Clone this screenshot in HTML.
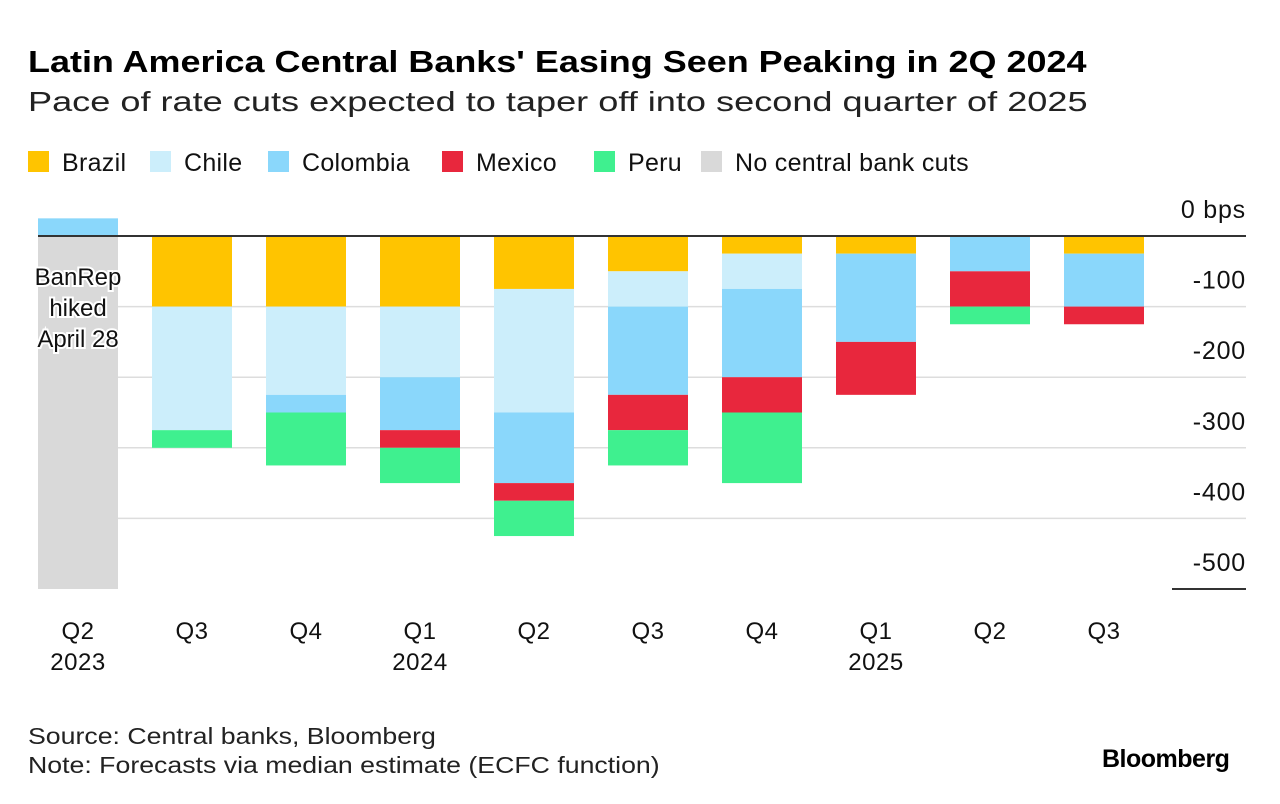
<!DOCTYPE html>
<html><head><meta charset="utf-8"><style>
body{margin:0;background:#fff;font-family:"Liberation Sans",Arial,sans-serif;color:#000}
#wrap{position:relative;width:1280px;height:804px;overflow:hidden}
.t{position:absolute;white-space:nowrap;transform-origin:left top}
</style></head><body><div id="wrap">
<div class="t" style="left:28px;top:44px;font-size:31px;font-weight:bold;transform:scaleX(1.16)">Latin America Central Banks' Easing Seen Peaking in 2Q 2024</div>
<div class="t" style="left:28px;top:86px;font-size:28px;color:#222;transform:scaleX(1.29)">Pace of rate cuts expected to taper off into second quarter of 2025</div>
<div class="t" style="left:28px;top:723px;font-size:23px;color:#222;transform:scaleX(1.16)">Source: Central banks, Bloomberg</div>
<div class="t" style="left:28px;top:752px;font-size:23px;color:#222;transform:scaleX(1.16)">Note: Forecasts via median estimate (ECFC function)</div>
<div class="t" style="left:1102px;top:745px;font-size:25px;font-weight:bold;letter-spacing:-0.5px">Bloomberg</div>
<svg id="c" width="1280" height="804" style="position:absolute;left:0;top:0"></svg>
</div>
<script>
const categories=["Q2","Q3","Q4","Q1","Q2","Q3","Q4","Q1","Q2","Q3"];
const years=["2023","","","2024","","","","2025","",""];
const seriesNames=["Brazil","Chile","Colombia","Mexico","Peru"];
const brazil=[0,100,100,100,75,50,25,25,0,25];
const chile=[0,175,125,100,175,50,50,0,0,0];
const colombia=[-25,0,25,75,100,125,125,125,50,75];
const mexico=[0,0,0,25,25,50,50,75,50,25];
const peru=[0,25,75,50,50,50,100,0,25,0];
const noCuts=[500,0,0,0,0,0,0,0,0,0];
const yTicks=[0,-100,-200,-300,-400,-500];
const colors={Brazil:"#FFC400",Chile:"#CCEEFB",Colombia:"#8AD7FB",Mexico:"#E8273D",Peru:"#3FF08F",None:"#D9D9D9"};
const svg=document.getElementById('c');const NS="http://www.w3.org/2000/svg";
const y0=236,pxPer=(589-236)/500;
function yS(v){return y0-v*pxPer;}
function xS(i){return 38+i*114;}
const bw=80;
function mk(tag,at){const e=document.createElementNS(NS,tag);for(const k in at)e.setAttribute(k,at[k]);svg.appendChild(e);return e;}
// legend
const legItems=[["Brazil",colors.Brazil,28],["Chile",colors.Chile,150],["Colombia",colors.Colombia,268],["Mexico",colors.Mexico,442],["Peru",colors.Peru,594],["No central bank cuts",colors.None,701]];
legItems.forEach(([n,c,lx])=>{
 const r=mk('rect',{x:lx,y:151,width:21,height:21,fill:c});
 
 
 const t=mk('text',{x:lx+34,y:171,'font-size':25,fill:'#111','letter-spacing':'0.3'});t.textContent=n;
 
 
});
// gridlines first
yTicks.forEach(v=>{
 const y=yS(v);
 if(v!==0&&v!==-500){const l=mk('line',{x1:38,x2:1246,y1:y,y2:y,stroke:'#ddd','stroke-width':1.5});}
});
// bars
const stacks=[brazil,chile,colombia,mexico,peru];
categories.forEach((c,i)=>{
 if(noCuts[i]>0){const r=mk('rect',{x:xS(i),y:y0,width:bw,height:noCuts[i]*pxPer,fill:colors.None});
  
  }
 let cum=0;
 stacks.forEach((arr,s)=>{
  const v=arr[i];if(!v)return;
  let top,h;
  if(v<0){top=yS(-v);h=-v*pxPer;}else{top=yS(-cum);h=v*pxPer;cum+=v;}
  const r=mk('rect',{x:xS(i),y:top,width:bw,height:h,fill:colors[seriesNames[s]]});
  
  
 });
 const t=mk('text',{x:xS(i)+bw/2,y:639,'font-size':24,'text-anchor':'middle',fill:'#111','letter-spacing':'0.5'});t.textContent=c;
 
 
 if(years[i]){const t2=mk('text',{x:xS(i)+bw/2,y:670,'font-size':24,'text-anchor':'middle',fill:'#111','letter-spacing':'0.5'});t2.textContent=years[i];
  
  }
});
// axis lines + labels
yTicks.forEach(v=>{
 const y=yS(v);
 if(v===0){const l=mk('line',{x1:38,x2:1246,y1:y,y2:y,stroke:'#333','stroke-width':2});}
 else if(v===-500){const l=mk('line',{x1:1172,x2:1246,y1:y,y2:y,stroke:'#333','stroke-width':2});}
 const t=mk('text',{x:1246,y:y-18,'font-size':25,'text-anchor':'end',fill:'#111','letter-spacing':'0.8'});t.textContent=v===0?'0 bps':String(v);
 
 
});
// annotation
["BanRep","hiked","April 28"].forEach((s,k)=>{
 const t=mk('text',{x:78,y:285+k*31,'font-size':24,'text-anchor':'middle',fill:'#111',stroke:'#fff','stroke-width':4,'paint-order':'stroke'});t.textContent=s;
 
 
});
</script></body></html>
